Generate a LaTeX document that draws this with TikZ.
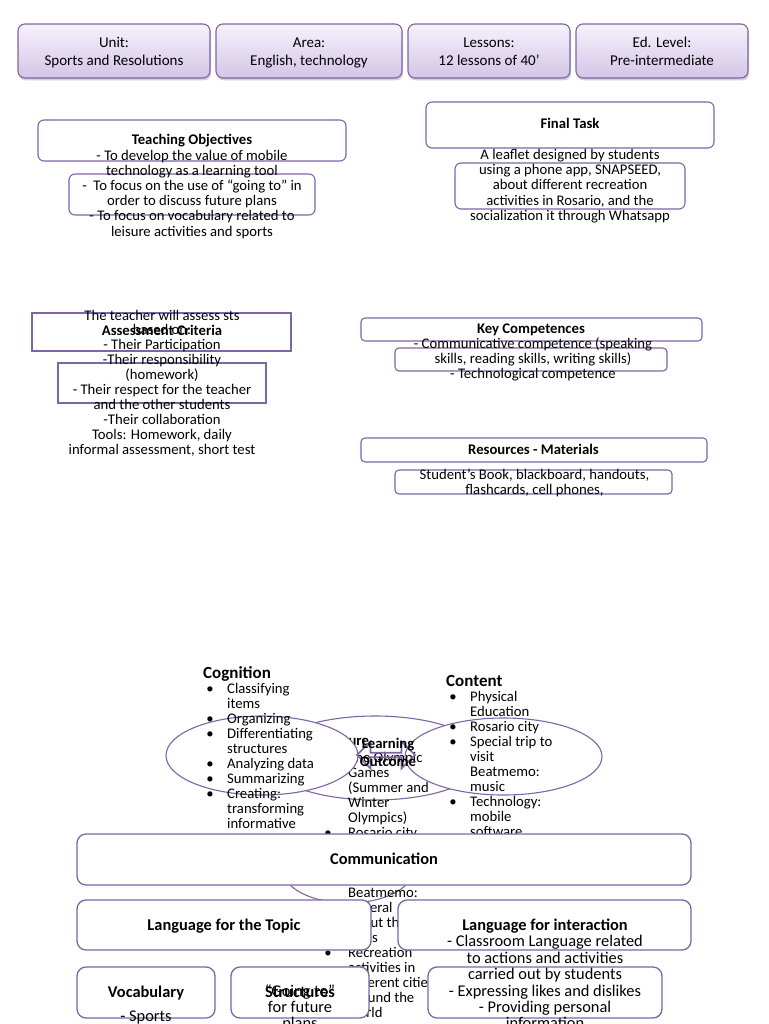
\documentclass[tikz,border=0pt]{standalone}
\usepackage{fontspec}
\setmainfont{Carlito}
\usetikzlibrary{shapes.geometric,shapes.arrows,shadows}
\definecolor{pline}{HTML}{7E65A3}
\definecolor{ptop}{HTML}{F6F2FB}
\definecolor{pbot}{HTML}{D3C5E8}
\newcommand\tlines[6]{%
  \foreach \tl [count=\ti] in {#6} {%
    \node[anchor=base, inner sep=0pt, #5] (#1-\ti) at (#2, {#3+(\ti-1)*#4}) {\tl};
  }}
\begin{document}
\begin{tikzpicture}[x=1pt,y=-1pt,
  hdr/.style={draw=pline, line width=1.1pt, rounded corners=7pt, top color=ptop, bottom color=pbot,
    drop shadow={shadow xshift=1pt, shadow yshift=-2.5pt, opacity=0.35}, inner sep=0pt},
  hx/.style={font=\fontsize{15}{18}\selectfont},
  box/.style={draw=pline, line width=1.1pt, rounded corners=6pt, fill=white, inner sep=0pt},
  bigbox/.style={draw=pline, line width=1.3pt, rounded corners=9pt, fill=white, inner sep=0pt},
  sqbox/.style={draw=pline, line width=1.1pt, fill=white, inner sep=0pt},
  ell/.style={draw=pline, line width=1.1pt, ellipse, fill=white, inner sep=0pt},
  tx/.style={font=\fontsize{14.7}{15.2}\selectfont},
  tb/.style={font=\bfseries\fontsize{14.7}{15.2}\selectfont},
  ttl/.style={font=\bfseries\fontsize{17}{18}\selectfont},
  lx/.style={font=\fontsize{16.4}{16.4}\selectfont},
  lb/.style={font=\bfseries\fontsize{16.4}{16.4}\selectfont},
  bul/.style={anchor=base, inner sep=0pt, font=\fontsize{14.7}{15.2}\selectfont}
]
\useasboundingbox[fill=white] (0,0) rectangle (768,1024);

% ---------- header ----------
\node[hdr, minimum width=192pt, minimum height=54pt] (unit) at (114,51) {};
\node[hdr, minimum width=186pt, minimum height=54pt] (area) at (309,51) {};
\node[hdr, minimum width=162pt, minimum height=54pt] (less) at (489,51) {};
\node[hdr, minimum width=172pt, minimum height=54pt] (level) at (662,51) {};
\tlines{unitt}{114}{47.5}{18}{hx}{{Unit:},{Sports and Resolutions}}
\tlines{areat}{309}{47.5}{18}{hx}{{Area:},{English, technology}}
\tlines{lesst}{489}{47.5}{18}{hx}{{Lessons:},{12 lessons of 40’}}
\tlines{levelt}{662}{47.5}{18}{hx}{{Ed. Level:},{Pre-intermediate}}

% ---------- top boxes ----------
\node[box, minimum width=308pt, minimum height=41pt] (tobj1) at (192,140.5) {};
\node[box, minimum width=246pt, minimum height=41pt] (tobj2) at (192,194.5) {};
\node[box, minimum width=288pt, minimum height=46pt] (ftask1) at (570,125) {};
\node[box, minimum width=230pt, minimum height=46pt] (ftask2) at (570,186) {};
\node[sqbox, minimum width=259pt, minimum height=38pt] (ass1) at (161.5,332) {};
\node[sqbox, minimum width=208pt, minimum height=40pt] (ass2) at (162,383) {};
\node[box, rounded corners=4pt, minimum width=341pt, minimum height=23pt] (key1) at (531.5,329.5) {};
\node[box, rounded corners=4pt, minimum width=272pt, minimum height=23pt] (key2) at (531,359.5) {};
\node[box, rounded corners=4pt, minimum width=346pt, minimum height=24pt] (res1) at (534,450) {};
\node[box, rounded corners=4pt, minimum width=277pt, minimum height=24pt] (res2) at (533.5,482) {};

% ---------- top texts ----------
\tlines{tobjt}{192}{145}{15.2}{tx}{{\textbf{Teaching Objectives}},{- To develop the value of mobile},{technology as a learning tool},{-~~To focus on the use of “going to” in},{order to discuss future plans},{- To focus on vocabulary related to},{leisure activities and sports}}
\node[tb, anchor=base, inner sep=0pt] (ftaskt) at (570,129) {Final Task};
\tlines{ftaskl}{570}{159.5}{15.25}{tx}{{A leaflet designed by students},{using a phone app, SNAPSEED,},{about different recreation},{activities in Rosario, and the},{socialization it through Whatsapp}}
\node[tb, anchor=base, inner sep=0pt] (asst) at (162,335) {Assessment Criteria};
\tlines{assl}{162}{320}{14.9}{tx}{{The teacher will assess sts},{based on:},{- Their Participation},{-Their responsibility},{(homework)},{- Their respect for the teacher},{and the other students},{-Their collaboration},{Tools: Homework, daily},{informal assessment, short test}}
\node[tb, anchor=base, inner sep=0pt] (keyt) at (531,333) {Key Competences};
\tlines{keyl}{533}{348}{15}{tx}{{- Communicative competence (speaking},{skills, reading skills, writing skills)},{- Technological competence}}
\node[tb, anchor=base, inner sep=0pt] (rest) at (533.5,454) {Resources - Materials};
\tlines{resl}{534.5}{479}{15}{tx}{{Student’s Book, blackboard, handouts,},{flashcards, cell phones,}}

% ---------- Venn part ----------
\node[ell, minimum width=220pt, minimum height=84pt] (cultE) at (375,758) {};
\node[ell, minimum width=130pt, minimum height=66pt] (commE) at (348,870) {};
\node[ell, minimum width=197pt, minimum height=77pt] (contE) at (503.5,756.5) {};
% culture text (partly hidden)
\node[anchor=base west, inner sep=0pt, tb] (cultt) at (324,745) {Culture};
\tlines{cult}{348}{762}{15}{tx,anchor=base west}{{The Olympic},{Games},{(Summer and},{Winter},{Olympics)},{Rosario city}}
\tlines{cultb}{348}{897}{15}{tx,anchor=base west}{{Beatmemo:},{general},{about the},{titles},{Recreation},{activities in},{different cities},{around the},{world}}
\node[bul] (cub1) at (328,762) {•};
\node[bul] (cub2) at (328,837) {•};
\node[bul] (cub3) at (328,957) {•};
\node[ell, minimum width=192pt, minimum height=79pt] (cogE) at (262,755.5) {};
\node[double arrow, draw=pline, line width=1.6pt, minimum width=27pt, minimum height=58pt,
  double arrow head extend=4pt, inner sep=0pt] (lo) at (386,755) {};

% cognition
\node[anchor=base west, inner sep=0pt, ttl] (cogt) at (203,678) {Cognition};
\tlines{cog}{227}{693}{15}{tx,anchor=base west}{{Classifying},{items},{Organizing},{Differentiating},{structures},{Analyzing data},{Summarizing},{Creating:},{transforming},{informative}}
\foreach \yy [count=\k] in {693,723,738,768,783,798} \node[bul] (cgb\k) at (210,\yy) {•};
% content
\node[anchor=base west, inner sep=0pt, ttl] (cont) at (446,686) {Content};
\tlines{con}{470}{701}{15}{tx,anchor=base west}{{Physical},{Education},{Rosario city},{Special trip to},{visit},{Beatmemo:},{music},{Technology:},{mobile},{software}}
\foreach \yy [count=\k] in {701,731,746,806} \node[bul] (cnb\k) at (453,\yy) {•};
% learning outcome
\tlines{lout}{388}{748.5}{18}{tb}{{Learning},{Outcome}}

% ---------- bottom boxes ----------
\node[bigbox, minimum width=614pt, minimum height=51pt] (comm) at (384,859.5) {};
\node[bigbox, minimum width=294pt, minimum height=50pt] (ltop) at (224,925) {};
\node[bigbox, minimum width=293pt, minimum height=50pt] (lint) at (544.5,925) {};
\node[bigbox, minimum width=138pt, minimum height=51pt] (voc) at (146,992.5) {};
\node[bigbox, minimum width=138pt, minimum height=51pt] (str) at (300,992.5) {};
\node[bigbox, minimum width=234pt, minimum height=51pt] (lint2) at (545,992.5) {};

\node[lb, anchor=base, inner sep=0pt] (commt) at (384,864.5) {Communication};
\node[lb, anchor=base, inner sep=0pt] (ltopt) at (224,930.5) {Language for the Topic};
\tlines{lintl}{545}{930.5}{16.4}{lx}{{\textbf{Language for interaction}},{- Classroom Language related},{to actions and activities},{carried out by students},{- Expressing likes and dislikes},{- Providing personal},{information}}
\node[lb, anchor=base, inner sep=0pt] (voct) at (146,997.5) {Vocabulary};
\node[lx, anchor=base, inner sep=0pt] (vocl) at (146,1021.5) {- Sports};
\node[lb, anchor=base, inner sep=0pt] (strt) at (300,997.5) {Structures};
\tlines{strl}{300}{996}{16.4}{lx}{{“Going to”},{for future},{plans}}
\end{tikzpicture}
\end{document}
